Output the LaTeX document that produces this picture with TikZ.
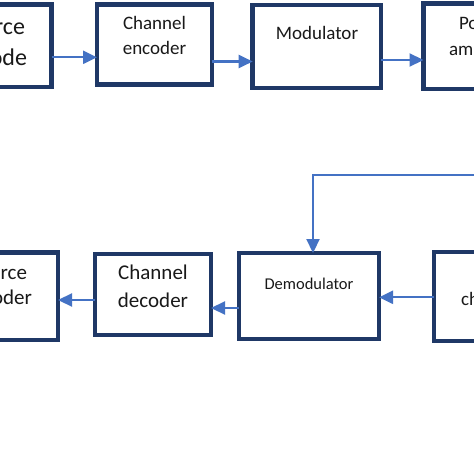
\documentclass[tikz,border=0pt]{standalone}
\usepackage{fontspec}
\setmainfont{Carlito}
\usetikzlibrary{arrows.meta}
\definecolor{boxnavy}{RGB}{31,56,102}
\definecolor{arrblue}{RGB}{68,114,196}
\tikzset{
  blk/.style={draw=boxnavy, line width=4.5pt, rectangle, inner sep=0pt, outer sep=0pt, fill=white},
  arr/.style={draw=arrblue, line width=2.2pt, -{Triangle[length=14pt,width=13pt]}},
  lbl/.style={inner sep=0pt, outer sep=0pt, text=black!90},
}
\newcommand{\fs}[1]{\fontsize{#1}{#1}\selectfont}
\begin{document}
\begin{tikzpicture}[x=1pt,y=-1pt]
\useasboundingbox (0,0) rectangle (474,474);
\clip (0,0) rectangle (474,474);
\fill[white] (0,0) rectangle (474,474);
% boxes
\node[blk, minimum width=131.5pt, minimum height=82.5pt] (srcenc) at (-14.25,45.75) {};
\node[blk, minimum width=115pt, minimum height=80.4pt] (chenc) at (154.5,44.5) {};
\node[blk, minimum width=128.3pt, minimum height=83pt] (mod) at (316.85,46.5) {};
\node[blk, minimum width=131.5pt, minimum height=85.5pt] (pamp) at (489.25,46.25) {};
\node[blk, minimum width=138pt, minimum height=87.5pt] (srcdec) at (-11,296.25) {};
\node[blk, minimum width=116pt, minimum height=81pt] (chdec) at (153,294.5) {};
\node[blk, minimum width=140pt, minimum height=86pt] (demod) at (309,296) {};
\node[blk, minimum width=131pt, minimum height=89pt] (chan) at (499.5,296.5) {};
% texts
\node[lbl, font=\fs{24}, anchor=mid east] (t1a) at (25,32) {Source};
\node[lbl, font=\fs{24}, anchor=mid east] (t1b) at (27,63) {encode};
\node[lbl, font=\fs{19}, anchor=mid] (t2a) at (154.5,27) {Channel};
\node[lbl, font=\fs{19}, anchor=mid] (t2b) at (154.5,52) {encoder};
\node[lbl, font=\fs{19}, anchor=mid] (t3) at (317,37) {Modulator};
\node[lbl, font=\fs{19}, anchor=mid west] (t4a) at (459,27) {Power};
\node[lbl, font=\fs{19}, anchor=mid west] (t4b) at (449,53) {amplifier};
\node[lbl, font=\fs{21}, anchor=mid east] (t5a) at (27,277) {Source};
\node[lbl, font=\fs{21}, anchor=mid east] (t5b) at (32,302.5) {decoder};
\node[lbl, font=\fs{21}, anchor=mid] (t6a) at (153,277) {Channel};
\node[lbl, font=\fs{21}, anchor=mid] (t6b) at (153,305) {decoder};
\node[lbl, font=\fs{16.5}, anchor=mid] (t7) at (309,287) {Demodulator};
\node[lbl, font=\fs{19}, anchor=mid west] (t8) at (461,303) {channel};
% connectors
\draw[arr] (srcenc.east |- 0,57.3) -- (chenc.west |- 0,57.3);
\draw[arr] (chenc.east |- 0,61.5) -- (mod.west |- 0,61.5);
\draw[arr] (mod.east |- 0,60) -- (pamp.west |- 0,60);
\draw[arr] (chan.west |- 0,297.3) -- (demod.east |- 0,297.3);
\draw[arr] (demod.west |- 0,308) -- (chdec.east |- 0,308);
\draw[arr] (chdec.west |- 0,300) -- (srcdec.east |- 0,300);
\coordinate (fb) at (480,175);
\draw[arr] (fb) -- (313,175) -- (demod.north -| 313,0);
\end{tikzpicture}
\end{document}
